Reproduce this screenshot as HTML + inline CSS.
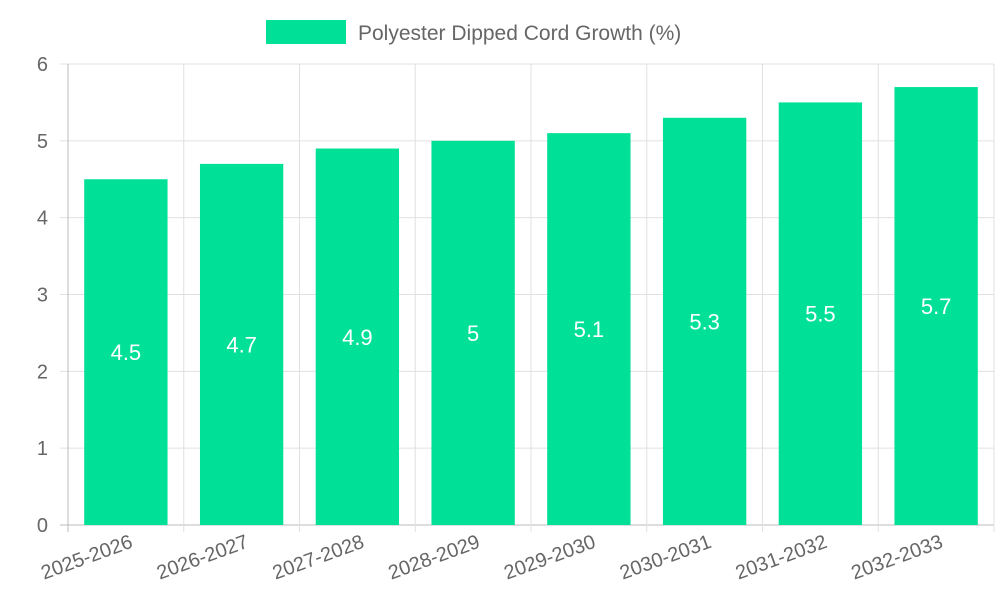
<!DOCTYPE html>
<html><head><meta charset="utf-8"><style>
body{margin:0;background:#fff;}
svg{font-family:"Liberation Sans",sans-serif;}
</style></head><body>
<svg width="1000" height="600" viewBox="0 0 1000 600" xmlns="http://www.w3.org/2000/svg" id="chart"></svg>
<script>
const categories=["2025-2026","2026-2027","2027-2028","2028-2029","2029-2030","2030-2031","2031-2032","2032-2033"];
const values=[4.5,4.7,4.9,5,5.1,5.3,5.5,5.7];
const yTicks=[0,1,2,3,4,5,6];
const seriesName="Polyester Dipped Cord Growth (%)";
const svg=document.getElementById('chart');
const NS="http://www.w3.org/2000/svg";
const L=68,R=994,T=64,B=525,yMax=6;
const bw=(R-L)/categories.length;
const x=i=>L+i*bw;
const y=v=>B-(v/yMax)*(B-T);
function mk(t,a,p){const e=document.createElementNS(NS,t);for(const k in a)e.setAttribute(k,a[k]);(p||svg).appendChild(e);return e;}
const grid=mk('g',{});


yTicks.forEach(t=>{
  mk('line',{x1:L-8,x2:R,y1:y(t),y2:y(t),stroke:t===0?'#bbb':'#e0e0e0','stroke-width':1},grid);
  const tx=mk('text',{x:L-20,y:y(t)+7,'text-anchor':'end','font-size':20,fill:'#666'});
  tx.textContent=t;
  
  
});
for(let i=0;i<=categories.length;i++){
  mk('line',{x1:x(i),x2:x(i),y1:T,y2:B+7,stroke:i===0?'#bbb':'#e0e0e0','stroke-width':1},grid);
}
categories.forEach((c,i)=>{
  const v=values[i];
  const bx=x(i)+bw*0.14, w=bw*0.72;
  const r=mk('rect',{x:bx,y:y(v),width:w,height:B-y(v),fill:'#00e096'});
  
  
  const vl=mk('text',{x:x(i)+bw/2,y:(y(v)+B)/2+8,'text-anchor':'middle','font-size':22,fill:'#fff'});
  vl.textContent=v;
  
  
  const cx=x(i)+bw/2+8, cy=B+22;
  const xl=mk('text',{x:cx,y:cy,'text-anchor':'end','font-size':20,fill:'#666',transform:`rotate(-20 ${cx} ${cy})`});
  xl.textContent=c;
  
  
});
const lg=mk('g',{});


mk('rect',{x:266,y:20,width:80,height:24,fill:'#00e096'},lg);
const lt=mk('text',{x:358,y:40,'font-size':21,fill:'#666'},lg);
lt.textContent=seriesName;
</script>
</body></html>
